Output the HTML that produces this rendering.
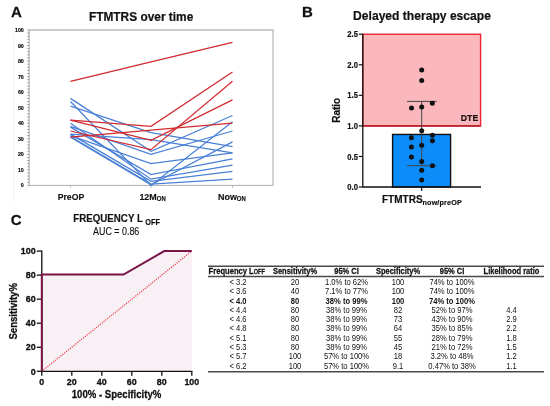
<!DOCTYPE html>
<html><head><meta charset="utf-8"><style>
html,body{margin:0;padding:0;background:#fff;}
body{width:550px;height:406px;overflow:hidden;position:relative;}
svg{position:absolute;left:0;top:0;filter:blur(0.25px);font-family:"Liberation Sans", sans-serif;}
</style></head><body>
<svg width="550" height="406" viewBox="0 0 550 406">
<text transform="translate(10.90,16.90) scale(1.0,1.03)" font-size="15" font-weight="bold" fill="#111" stroke="#111" stroke-width="0.25">A</text>
<text transform="translate(141.10,20.60)" font-size="11.9" font-weight="bold" fill="#111" text-anchor="middle" stroke="#111" stroke-width="0.2">FTMTRS over time</text>
<line x1="13.5" y1="35" x2="13.5" y2="203" stroke="#f4f4f4" stroke-width="1"/>
<path d="M29.2,30.0 H273.0 V185.4" fill="none" stroke="#bcbcbc" stroke-width="1.3"/>
<path d="M29.2,30.0 V185.4 H273.0" fill="none" stroke="#b0b0b0" stroke-width="1"/>
<path d="M27.4,185.40H29.2M27.4,182.29H29.2M27.4,179.18H29.2M27.4,176.08H29.2M27.4,172.97H29.2M27.4,169.86H29.2M27.4,166.75H29.2M27.4,163.64H29.2M27.4,160.54H29.2M27.4,157.43H29.2M27.4,154.32H29.2M27.4,151.21H29.2M27.4,148.10H29.2M27.4,145.00H29.2M27.4,141.89H29.2M27.4,138.78H29.2M27.4,135.67H29.2M27.4,132.56H29.2M27.4,129.46H29.2M27.4,126.35H29.2M27.4,123.24H29.2M27.4,120.13H29.2M27.4,117.02H29.2M27.4,113.92H29.2M27.4,110.81H29.2M27.4,107.70H29.2M27.4,104.59H29.2M27.4,101.48H29.2M27.4,98.38H29.2M27.4,95.27H29.2M27.4,92.16H29.2M27.4,89.05H29.2M27.4,85.94H29.2M27.4,82.84H29.2M27.4,79.73H29.2M27.4,76.62H29.2M27.4,73.51H29.2M27.4,70.40H29.2M27.4,67.30H29.2M27.4,64.19H29.2M27.4,61.08H29.2M27.4,57.97H29.2M27.4,54.86H29.2M27.4,51.76H29.2M27.4,48.65H29.2M27.4,45.54H29.2M27.4,42.43H29.2M27.4,39.32H29.2M27.4,36.22H29.2M27.4,33.11H29.2M27.4,30.00H29.2" stroke="#808080" stroke-width="0.9"/>
<line x1="70.5" y1="185.4" x2="70.5" y2="187.9" stroke="#a8a8a8" stroke-width="0.8"/>
<line x1="151.0" y1="185.4" x2="151.0" y2="187.9" stroke="#a8a8a8" stroke-width="0.8"/>
<line x1="232.5" y1="185.4" x2="232.5" y2="187.9" stroke="#a8a8a8" stroke-width="0.8"/>
<text transform="translate(23.80,187.40) scale(1.0,1.05)" font-size="5.3" font-weight="bold" fill="#000" text-anchor="end" stroke="#000" stroke-width="0.12">0</text>
<text transform="translate(23.80,171.86) scale(1.0,1.05)" font-size="5.3" font-weight="bold" fill="#000" text-anchor="end" stroke="#000" stroke-width="0.12">10</text>
<text transform="translate(23.80,156.32) scale(1.0,1.05)" font-size="5.3" font-weight="bold" fill="#000" text-anchor="end" stroke="#000" stroke-width="0.12">20</text>
<text transform="translate(23.80,140.78) scale(1.0,1.05)" font-size="5.3" font-weight="bold" fill="#000" text-anchor="end" stroke="#000" stroke-width="0.12">30</text>
<text transform="translate(23.80,125.24) scale(1.0,1.05)" font-size="5.3" font-weight="bold" fill="#000" text-anchor="end" stroke="#000" stroke-width="0.12">40</text>
<text transform="translate(23.80,109.70) scale(1.0,1.05)" font-size="5.3" font-weight="bold" fill="#000" text-anchor="end" stroke="#000" stroke-width="0.12">50</text>
<text transform="translate(23.80,94.16) scale(1.0,1.05)" font-size="5.3" font-weight="bold" fill="#000" text-anchor="end" stroke="#000" stroke-width="0.12">60</text>
<text transform="translate(23.80,78.62) scale(1.0,1.05)" font-size="5.3" font-weight="bold" fill="#000" text-anchor="end" stroke="#000" stroke-width="0.12">70</text>
<text transform="translate(23.80,63.08) scale(1.0,1.05)" font-size="5.3" font-weight="bold" fill="#000" text-anchor="end" stroke="#000" stroke-width="0.12">80</text>
<text transform="translate(23.80,47.54) scale(1.0,1.05)" font-size="5.3" font-weight="bold" fill="#000" text-anchor="end" stroke="#000" stroke-width="0.12">90</text>
<text transform="translate(23.80,32.00) scale(1.0,1.05)" font-size="5.3" font-weight="bold" fill="#000" text-anchor="end" stroke="#000" stroke-width="0.12">100</text>
<text transform="translate(71.00,199.50) scale(0.93,1.0)" font-size="9.4" font-weight="bold" fill="#111" text-anchor="middle" stroke="#111" stroke-width="0.15">PreOP</text>
<text transform="translate(139.40,199.50) scale(0.95,1.0)" font-size="9.4" font-weight="bold" fill="#111" stroke="#111" stroke-width="0.15">12M<tspan font-size="6.3" dy="1.6">ON</tspan></text>
<text transform="translate(218.00,199.50) scale(0.95,1.0)" font-size="9.4" font-weight="bold" fill="#111" stroke="#111" stroke-width="0.15">Now<tspan font-size="6.3" dy="1.6">ON</tspan></text>
<polyline points="70.5,98.38 151.0,151.21 232.5,115.47" fill="none" stroke="#4a80d6" stroke-width="1.25" stroke-linejoin="miter"/>
<polyline points="70.5,101.48 151.0,185.40 232.5,121.69" fill="none" stroke="#4a80d6" stroke-width="1.25" stroke-linejoin="miter"/>
<polyline points="70.5,106.15 151.0,132.56 232.5,146.55" fill="none" stroke="#4a80d6" stroke-width="1.25" stroke-linejoin="miter"/>
<polyline points="70.5,126.35 151.0,154.32 232.5,131.01" fill="none" stroke="#4a80d6" stroke-width="1.25" stroke-linejoin="miter"/>
<polyline points="70.5,134.12 151.0,139.56 232.5,152.77" fill="none" stroke="#4a80d6" stroke-width="1.25" stroke-linejoin="miter"/>
<polyline points="70.5,137.23 151.0,184.78 232.5,141.89" fill="none" stroke="#4a80d6" stroke-width="1.25" stroke-linejoin="miter"/>
<polyline points="70.5,135.67 151.0,163.64 232.5,152.77" fill="none" stroke="#4a80d6" stroke-width="1.25" stroke-linejoin="miter"/>
<polyline points="70.5,127.12 151.0,174.52 232.5,158.98" fill="none" stroke="#4a80d6" stroke-width="1.25" stroke-linejoin="miter"/>
<polyline points="70.5,123.24 151.0,179.18 232.5,165.20" fill="none" stroke="#4a80d6" stroke-width="1.25" stroke-linejoin="miter"/>
<polyline points="70.5,134.12 151.0,181.36 232.5,171.41" fill="none" stroke="#4a80d6" stroke-width="1.25" stroke-linejoin="miter"/>
<polyline points="70.5,136.45 151.0,184.00 232.5,179.18" fill="none" stroke="#4a80d6" stroke-width="1.25" stroke-linejoin="miter"/>
<polyline points="70.5,81.28 151.0,61.86 232.5,42.43" fill="none" stroke="#d22a2e" stroke-width="1.25" stroke-linejoin="miter"/>
<polyline points="70.5,120.13 151.0,126.35 232.5,71.96" fill="none" stroke="#d22a2e" stroke-width="1.25" stroke-linejoin="miter"/>
<polyline points="70.5,120.13 151.0,140.33 232.5,99.93" fill="none" stroke="#d22a2e" stroke-width="1.25" stroke-linejoin="miter"/>
<polyline points="70.5,131.01 151.0,149.66 232.5,81.28" fill="none" stroke="#d22a2e" stroke-width="1.25" stroke-linejoin="miter"/>
<polyline points="70.5,137.23 151.0,130.23 232.5,123.24" fill="none" stroke="#d22a2e" stroke-width="1.25" stroke-linejoin="miter"/>
<text transform="translate(301.90,16.90) scale(1.0,1.03)" font-size="15" font-weight="bold" fill="#111" stroke="#111" stroke-width="0.25">B</text>
<text transform="translate(422.00,20.30)" font-size="12.1" font-weight="bold" fill="#111" text-anchor="middle" stroke="#111" stroke-width="0.2">Delayed therapy escape</text>
<rect x="362.8" y="34.25" width="117.80" height="91.65" fill="#fbb8bc" stroke="#ec2634" stroke-width="1.4"/>
<line x1="362.8" y1="125.90" x2="480.6" y2="125.90" stroke="#b8252e" stroke-width="1.6"/>
<text transform="translate(478.20,120.80) scale(1.0,1.1)" font-size="8.7" font-weight="bold" fill="#1e1010" text-anchor="end" stroke="#1e1010" stroke-width="0.2">DTE</text>
<rect x="392.6" y="134.45" width="58.0" height="52.55" fill="#0c8cf8" stroke="#111" stroke-width="1.4"/>
<path d="M362.8,33.75 V187.0 H481" fill="none" stroke="#111" stroke-width="1.3"/>
<line x1="358.8" y1="187.00" x2="362.8" y2="187.00" stroke="#111" stroke-width="1.2"/>
<text transform="translate(358.00,190.10) scale(1.0,1.14)" font-size="7.7" font-weight="bold" fill="#111" text-anchor="end" stroke="#111" stroke-width="0.15">0.0</text>
<line x1="358.8" y1="156.45" x2="362.8" y2="156.45" stroke="#111" stroke-width="1.2"/>
<text transform="translate(358.00,159.55) scale(1.0,1.14)" font-size="7.7" font-weight="bold" fill="#111" text-anchor="end" stroke="#111" stroke-width="0.15">0.5</text>
<line x1="358.8" y1="125.90" x2="362.8" y2="125.90" stroke="#111" stroke-width="1.2"/>
<text transform="translate(358.00,129.00) scale(1.0,1.14)" font-size="7.7" font-weight="bold" fill="#111" text-anchor="end" stroke="#111" stroke-width="0.15">1.0</text>
<line x1="358.8" y1="95.35" x2="362.8" y2="95.35" stroke="#111" stroke-width="1.2"/>
<text transform="translate(358.00,98.45) scale(1.0,1.14)" font-size="7.7" font-weight="bold" fill="#111" text-anchor="end" stroke="#111" stroke-width="0.15">1.5</text>
<line x1="358.8" y1="64.80" x2="362.8" y2="64.80" stroke="#111" stroke-width="1.2"/>
<text transform="translate(358.00,67.90) scale(1.0,1.14)" font-size="7.7" font-weight="bold" fill="#111" text-anchor="end" stroke="#111" stroke-width="0.15">2.0</text>
<line x1="358.8" y1="34.25" x2="362.8" y2="34.25" stroke="#111" stroke-width="1.2"/>
<text transform="translate(358.00,37.35) scale(1.0,1.14)" font-size="7.7" font-weight="bold" fill="#111" text-anchor="end" stroke="#111" stroke-width="0.15">2.5</text>
<line x1="421.7" y1="187.0" x2="421.7" y2="191.0" stroke="#111" stroke-width="1.2"/>
<text transform="translate(340.00,110.30) rotate(-90)" font-size="10" font-weight="bold" fill="#111" text-anchor="middle" stroke="#111" stroke-width="0.18">Ratio</text>
<text transform="translate(382.00,202.60)" font-size="10" font-weight="bold" fill="#111" stroke="#111" stroke-width="0.18">FTMTRS<tspan font-size="7.2" dy="2.2" letter-spacing="0.15">now/preOP</tspan></text>
<path d="M421.7,101.4 V165.7 M407,101.4 H436.8 M407,165.7 H436.8" stroke="#444" stroke-width="1"/>
<circle cx="421.7" cy="70" r="2.5" fill="#111"/>
<circle cx="421.7" cy="80.6" r="2.5" fill="#111"/>
<circle cx="432.3" cy="103.2" r="2.5" fill="#111"/>
<circle cx="411.5" cy="108.1" r="2.5" fill="#111"/>
<circle cx="421.7" cy="107" r="2.5" fill="#111"/>
<circle cx="421.7" cy="130.7" r="2.5" fill="#111"/>
<circle cx="411.4" cy="137.8" r="2.5" fill="#111"/>
<circle cx="432.4" cy="135.2" r="2.5" fill="#111"/>
<circle cx="432.4" cy="140.7" r="2.5" fill="#111"/>
<circle cx="411.4" cy="147.1" r="2.5" fill="#111"/>
<circle cx="421.7" cy="145.3" r="2.5" fill="#111"/>
<circle cx="411.4" cy="157.1" r="2.5" fill="#111"/>
<circle cx="421.7" cy="161.4" r="2.5" fill="#111"/>
<circle cx="432.4" cy="165.7" r="2.5" fill="#111"/>
<circle cx="421.7" cy="170.3" r="2.5" fill="#111"/>
<circle cx="421.7" cy="180" r="2.5" fill="#111"/>
<text transform="translate(10.80,224.70) scale(1.0,1.03)" font-size="15" font-weight="bold" fill="#111" stroke="#111" stroke-width="0.25">C</text>
<text transform="translate(73.20,221.70) scale(1.0,1.15)" font-size="9.75" font-weight="bold" fill="#111" stroke="#111" stroke-width="0.15">FREQUENCY L<tspan font-size="7.4" dx="2.3" dy="3.0">OFF</tspan></text>
<text transform="translate(116.20,235.30) scale(1.0,1.18)" font-size="8.9" fill="#111" text-anchor="middle" stroke="#111" stroke-width="0.12">AUC = 0.86</text>
<polygon points="41.80,371.30 41.80,274.54 123.55,274.54 164.20,251.10 191.80,251.10 191.80,371.30" fill="#f7f0f4"/>
<line x1="41.8" y1="371.3" x2="191.8" y2="251.1" stroke="#f23c4c" stroke-width="1.2" stroke-dasharray="1.2,1.2"/>
<path d="M41.8,250.50 V371.3 H192.40" fill="none" stroke="#111" stroke-width="1.3"/>
<line x1="36.8" y1="371.30" x2="41.8" y2="371.30" stroke="#111" stroke-width="1.3"/>
<text transform="translate(35.60,374.50) scale(1.0,1.09)" font-size="8.9" font-weight="bold" fill="#111" text-anchor="end" stroke="#111" stroke-width="0.3">0</text>
<line x1="41.80" y1="371.3" x2="41.80" y2="375.8" stroke="#111" stroke-width="1.3"/>
<text transform="translate(41.80,384.80) scale(1.0,1.09)" font-size="8.9" font-weight="bold" fill="#111" text-anchor="middle" stroke="#111" stroke-width="0.3">0</text>
<line x1="36.8" y1="347.26" x2="41.8" y2="347.26" stroke="#111" stroke-width="1.3"/>
<text transform="translate(35.60,350.46) scale(1.0,1.09)" font-size="8.9" font-weight="bold" fill="#111" text-anchor="end" stroke="#111" stroke-width="0.3">20</text>
<line x1="71.80" y1="371.3" x2="71.80" y2="375.8" stroke="#111" stroke-width="1.3"/>
<text transform="translate(71.80,384.80) scale(1.0,1.09)" font-size="8.9" font-weight="bold" fill="#111" text-anchor="middle" stroke="#111" stroke-width="0.3">20</text>
<line x1="36.8" y1="323.22" x2="41.8" y2="323.22" stroke="#111" stroke-width="1.3"/>
<text transform="translate(35.60,326.42) scale(1.0,1.09)" font-size="8.9" font-weight="bold" fill="#111" text-anchor="end" stroke="#111" stroke-width="0.3">40</text>
<line x1="101.80" y1="371.3" x2="101.80" y2="375.8" stroke="#111" stroke-width="1.3"/>
<text transform="translate(101.80,384.80) scale(1.0,1.09)" font-size="8.9" font-weight="bold" fill="#111" text-anchor="middle" stroke="#111" stroke-width="0.3">40</text>
<line x1="36.8" y1="299.18" x2="41.8" y2="299.18" stroke="#111" stroke-width="1.3"/>
<text transform="translate(35.60,302.38) scale(1.0,1.09)" font-size="8.9" font-weight="bold" fill="#111" text-anchor="end" stroke="#111" stroke-width="0.3">60</text>
<line x1="131.80" y1="371.3" x2="131.80" y2="375.8" stroke="#111" stroke-width="1.3"/>
<text transform="translate(131.80,384.80) scale(1.0,1.09)" font-size="8.9" font-weight="bold" fill="#111" text-anchor="middle" stroke="#111" stroke-width="0.3">60</text>
<line x1="36.8" y1="275.14" x2="41.8" y2="275.14" stroke="#111" stroke-width="1.3"/>
<text transform="translate(35.60,278.34) scale(1.0,1.09)" font-size="8.9" font-weight="bold" fill="#111" text-anchor="end" stroke="#111" stroke-width="0.3">80</text>
<line x1="161.80" y1="371.3" x2="161.80" y2="375.8" stroke="#111" stroke-width="1.3"/>
<text transform="translate(161.80,384.80) scale(1.0,1.09)" font-size="8.9" font-weight="bold" fill="#111" text-anchor="middle" stroke="#111" stroke-width="0.3">80</text>
<line x1="36.8" y1="251.10" x2="41.8" y2="251.10" stroke="#111" stroke-width="1.3"/>
<text transform="translate(35.60,254.30) scale(1.0,1.09)" font-size="8.9" font-weight="bold" fill="#111" text-anchor="end" stroke="#111" stroke-width="0.3">100</text>
<line x1="191.80" y1="371.3" x2="191.80" y2="375.8" stroke="#111" stroke-width="1.3"/>
<text transform="translate(191.80,384.80) scale(1.0,1.09)" font-size="8.9" font-weight="bold" fill="#111" text-anchor="middle" stroke="#111" stroke-width="0.3">100</text>
<polyline points="41.80,371.30 41.80,274.54 123.55,274.54 164.20,251.10 191.80,251.10" fill="none" stroke="#7a1448" stroke-width="2" stroke-linejoin="miter"/>
<text transform="translate(17.40,311.30) rotate(-90) scale(1.0,1.17)" font-size="9.6" font-weight="bold" fill="#111" text-anchor="middle" stroke="#111" stroke-width="0.25">Sensitivity%</text>
<text transform="translate(116.50,398.00) scale(1.0,1.17)" font-size="9.6" font-weight="bold" fill="#111" text-anchor="middle" stroke="#111" stroke-width="0.25">100% - Specificity%</text>
<line x1="208.0" y1="266.2" x2="544.0" y2="266.2" stroke="#4a4a4a" stroke-width="1.6"/>
<line x1="208.0" y1="276.6" x2="544.0" y2="276.6" stroke="#4a4a4a" stroke-width="1.5"/>
<line x1="208.0" y1="371.8" x2="544.0" y2="371.8" stroke="#4a4a4a" stroke-width="1.6"/>
<text transform="translate(208.60,273.70) scale(1.0,1.17)" font-size="7.6" font-weight="bold" fill="#111" stroke="#111" stroke-width="0.22">Frequency L<tspan font-size="5.6" dy="0.6">OFF</tspan></text>
<text transform="translate(295.00,273.70) scale(1.0,1.17)" font-size="7.5" font-weight="bold" fill="#111" text-anchor="middle" stroke="#111" stroke-width="0.22">Sensitivity%</text>
<text transform="translate(346.50,273.70) scale(1.0,1.17)" font-size="7.5" font-weight="bold" fill="#111" text-anchor="middle" stroke="#111" stroke-width="0.22">95% CI</text>
<text transform="translate(398.00,273.70) scale(1.0,1.17)" font-size="7.5" font-weight="bold" fill="#111" text-anchor="middle" stroke="#111" stroke-width="0.22">Specificity%</text>
<text transform="translate(452.00,273.70) scale(1.0,1.17)" font-size="7.5" font-weight="bold" fill="#111" text-anchor="middle" stroke="#111" stroke-width="0.22">95% CI</text>
<text transform="translate(511.50,273.70) scale(1.0,1.17)" font-size="7.5" font-weight="bold" fill="#111" text-anchor="middle" stroke="#111" stroke-width="0.22">Likelihood ratio</text>
<text transform="translate(238.00,285.00) scale(1.0,1.17)" font-size="7.6" fill="#111" text-anchor="middle">&lt; 3.2</text>
<text transform="translate(295.00,285.00) scale(1.0,1.17)" font-size="7.6" fill="#111" text-anchor="middle">20</text>
<text transform="translate(346.50,285.00) scale(1.0,1.17)" font-size="7.6" fill="#111" text-anchor="middle">1.0% to 62%</text>
<text transform="translate(398.00,285.00) scale(1.0,1.17)" font-size="7.6" fill="#111" text-anchor="middle">100</text>
<text transform="translate(452.00,285.00) scale(1.0,1.17)" font-size="7.6" fill="#111" text-anchor="middle">74% to 100%</text>
<text transform="translate(238.00,294.29) scale(1.0,1.17)" font-size="7.6" fill="#111" text-anchor="middle">&lt; 3.6</text>
<text transform="translate(295.00,294.29) scale(1.0,1.17)" font-size="7.6" fill="#111" text-anchor="middle">40</text>
<text transform="translate(346.50,294.29) scale(1.0,1.17)" font-size="7.6" fill="#111" text-anchor="middle">7.1% to 77%</text>
<text transform="translate(398.00,294.29) scale(1.0,1.17)" font-size="7.6" fill="#111" text-anchor="middle">100</text>
<text transform="translate(452.00,294.29) scale(1.0,1.17)" font-size="7.6" fill="#111" text-anchor="middle">74% to 100%</text>
<text transform="translate(238.00,303.58) scale(1.0,1.17)" font-size="7.6" font-weight="bold" fill="#111" text-anchor="middle">&lt; 4.0</text>
<text transform="translate(295.00,303.58) scale(1.0,1.17)" font-size="7.6" font-weight="bold" fill="#111" text-anchor="middle">80</text>
<text transform="translate(346.50,303.58) scale(1.0,1.17)" font-size="7.6" font-weight="bold" fill="#111" text-anchor="middle">38% to 99%</text>
<text transform="translate(398.00,303.58) scale(1.0,1.17)" font-size="7.6" font-weight="bold" fill="#111" text-anchor="middle">100</text>
<text transform="translate(452.00,303.58) scale(1.0,1.17)" font-size="7.6" font-weight="bold" fill="#111" text-anchor="middle">74% to 100%</text>
<text transform="translate(238.00,312.87) scale(1.0,1.17)" font-size="7.6" fill="#111" text-anchor="middle">&lt; 4.4</text>
<text transform="translate(295.00,312.87) scale(1.0,1.17)" font-size="7.6" fill="#111" text-anchor="middle">80</text>
<text transform="translate(346.50,312.87) scale(1.0,1.17)" font-size="7.6" fill="#111" text-anchor="middle">38% to 99%</text>
<text transform="translate(398.00,312.87) scale(1.0,1.17)" font-size="7.6" fill="#111" text-anchor="middle">82</text>
<text transform="translate(452.00,312.87) scale(1.0,1.17)" font-size="7.6" fill="#111" text-anchor="middle">52% to 97%</text>
<text transform="translate(511.50,312.87) scale(1.0,1.17)" font-size="7.6" fill="#111" text-anchor="middle">4.4</text>
<text transform="translate(238.00,322.16) scale(1.0,1.17)" font-size="7.6" fill="#111" text-anchor="middle">&lt; 4.6</text>
<text transform="translate(295.00,322.16) scale(1.0,1.17)" font-size="7.6" fill="#111" text-anchor="middle">80</text>
<text transform="translate(346.50,322.16) scale(1.0,1.17)" font-size="7.6" fill="#111" text-anchor="middle">38% to 99%</text>
<text transform="translate(398.00,322.16) scale(1.0,1.17)" font-size="7.6" fill="#111" text-anchor="middle">73</text>
<text transform="translate(452.00,322.16) scale(1.0,1.17)" font-size="7.6" fill="#111" text-anchor="middle">43% to 90%</text>
<text transform="translate(511.50,322.16) scale(1.0,1.17)" font-size="7.6" fill="#111" text-anchor="middle">2.9</text>
<text transform="translate(238.00,331.45) scale(1.0,1.17)" font-size="7.6" fill="#111" text-anchor="middle">&lt; 4.8</text>
<text transform="translate(295.00,331.45) scale(1.0,1.17)" font-size="7.6" fill="#111" text-anchor="middle">80</text>
<text transform="translate(346.50,331.45) scale(1.0,1.17)" font-size="7.6" fill="#111" text-anchor="middle">38% to 99%</text>
<text transform="translate(398.00,331.45) scale(1.0,1.17)" font-size="7.6" fill="#111" text-anchor="middle">64</text>
<text transform="translate(452.00,331.45) scale(1.0,1.17)" font-size="7.6" fill="#111" text-anchor="middle">35% to 85%</text>
<text transform="translate(511.50,331.45) scale(1.0,1.17)" font-size="7.6" fill="#111" text-anchor="middle">2.2</text>
<text transform="translate(238.00,340.74) scale(1.0,1.17)" font-size="7.6" fill="#111" text-anchor="middle">&lt; 5.1</text>
<text transform="translate(295.00,340.74) scale(1.0,1.17)" font-size="7.6" fill="#111" text-anchor="middle">80</text>
<text transform="translate(346.50,340.74) scale(1.0,1.17)" font-size="7.6" fill="#111" text-anchor="middle">38% to 99%</text>
<text transform="translate(398.00,340.74) scale(1.0,1.17)" font-size="7.6" fill="#111" text-anchor="middle">55</text>
<text transform="translate(452.00,340.74) scale(1.0,1.17)" font-size="7.6" fill="#111" text-anchor="middle">28% to 79%</text>
<text transform="translate(511.50,340.74) scale(1.0,1.17)" font-size="7.6" fill="#111" text-anchor="middle">1.8</text>
<text transform="translate(238.00,350.03) scale(1.0,1.17)" font-size="7.6" fill="#111" text-anchor="middle">&lt; 5.3</text>
<text transform="translate(295.00,350.03) scale(1.0,1.17)" font-size="7.6" fill="#111" text-anchor="middle">80</text>
<text transform="translate(346.50,350.03) scale(1.0,1.17)" font-size="7.6" fill="#111" text-anchor="middle">38% to 99%</text>
<text transform="translate(398.00,350.03) scale(1.0,1.17)" font-size="7.6" fill="#111" text-anchor="middle">45</text>
<text transform="translate(452.00,350.03) scale(1.0,1.17)" font-size="7.6" fill="#111" text-anchor="middle">21% to 72%</text>
<text transform="translate(511.50,350.03) scale(1.0,1.17)" font-size="7.6" fill="#111" text-anchor="middle">1.5</text>
<text transform="translate(238.00,359.32) scale(1.0,1.17)" font-size="7.6" fill="#111" text-anchor="middle">&lt; 5.7</text>
<text transform="translate(295.00,359.32) scale(1.0,1.17)" font-size="7.6" fill="#111" text-anchor="middle">100</text>
<text transform="translate(346.50,359.32) scale(1.0,1.17)" font-size="7.6" fill="#111" text-anchor="middle">57% to 100%</text>
<text transform="translate(398.00,359.32) scale(1.0,1.17)" font-size="7.6" fill="#111" text-anchor="middle">18</text>
<text transform="translate(452.00,359.32) scale(1.0,1.17)" font-size="7.6" fill="#111" text-anchor="middle">3.2% to 48%</text>
<text transform="translate(511.50,359.32) scale(1.0,1.17)" font-size="7.6" fill="#111" text-anchor="middle">1.2</text>
<text transform="translate(238.00,368.61) scale(1.0,1.17)" font-size="7.6" fill="#111" text-anchor="middle">&lt; 6.2</text>
<text transform="translate(295.00,368.61) scale(1.0,1.17)" font-size="7.6" fill="#111" text-anchor="middle">100</text>
<text transform="translate(346.50,368.61) scale(1.0,1.17)" font-size="7.6" fill="#111" text-anchor="middle">57% to 100%</text>
<text transform="translate(398.00,368.61) scale(1.0,1.17)" font-size="7.6" fill="#111" text-anchor="middle">9.1</text>
<text transform="translate(452.00,368.61) scale(1.0,1.17)" font-size="7.6" fill="#111" text-anchor="middle">0.47% to 38%</text>
<text transform="translate(511.50,368.61) scale(1.0,1.17)" font-size="7.6" fill="#111" text-anchor="middle">1.1</text>
</svg>
</body></html>
